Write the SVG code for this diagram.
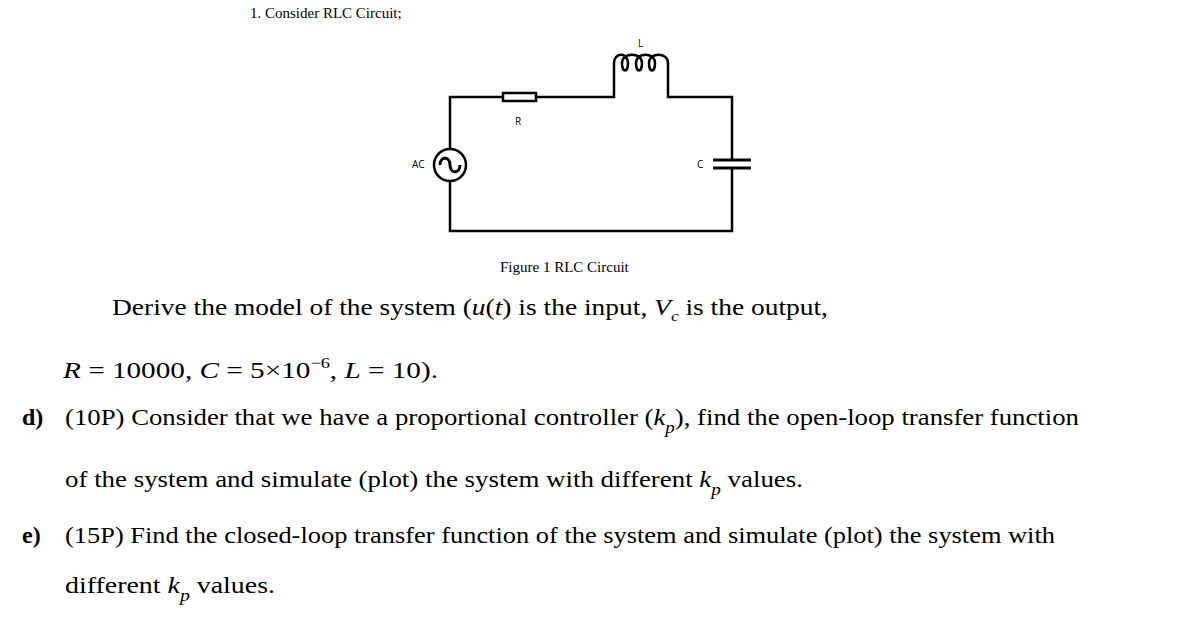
<svg xmlns="http://www.w3.org/2000/svg" width="1185" height="629" viewBox="0 0 1185 629">
<style>
.w{fill:none;stroke:#000;stroke-width:2.5}
.s{font-family:'Open Sans','DejaVu Sans',sans-serif;font-size:10px}
.i{font-style:italic}
</style>
<rect width="1185" height="629" fill="#fff"/>
<text x="250" y="18" font-family="Liberation Serif,serif" font-size="15">1. Consider RLC Circuit;</text>
<g id="connectors">
<path class="w" d="M450,149 V97 H502 M537,97 H614 V63 M668,63 V97 H732 V160 M732,168 V231 H450 V181"/>
</g>
<g id="R"><rect x="503" y="93" width="33" height="8" class="w" stroke-width="3"/><text x="515" y="125" class="s">R</text></g>
<g id="L"><path class="w" d="M614,63 C614,52 628,52 628,63 C628,73 622,73 622,63 C622,52 642,52 642,63 C642,73 636,73 636,63 C636,52 655,52 655,63 C655,73 649,73 649,63 C649,52 668,52 668,63"/><text x="638" y="47" class="s">L</text></g>
<g id="C"><path d="M713,160 H751 M713,168 H751" stroke="#000" stroke-width="3"/><text x="697" y="168" class="s">C</text></g>
<g id="AC"><circle cx="450" cy="165" r="16" class="w"/><path d="M440,165 C440,156 450,156 450,165 C450,174 460,174 460,165" fill="none" stroke="#000" stroke-width="3"/><text x="412" y="168" class="s">AC</text></g>
<text x="500" y="272" font-family="Liberation Serif,serif" font-size="15">Figure 1 RLC Circuit</text>
<g font-family="Liberation Serif,serif" font-size="24">
<text x="112" y="315" textLength="716" lengthAdjust="spacingAndGlyphs">Derive the model of the system (<tspan class="i">u</tspan>(<tspan class="i">t</tspan>) is the input, <tspan class="i">V</tspan><tspan class="i" font-size="15" dy="6">c</tspan><tspan dy="-6">  is the output,</tspan></text>
<text x="63" y="378" textLength="375" lengthAdjust="spacingAndGlyphs"><tspan class="i">R</tspan> = 10000, <tspan class="i">C</tspan> = 5×10<tspan font-size="15" dy="-10">−6</tspan><tspan dy="10">, </tspan><tspan class="i">L</tspan> = 10).</text>
<text x="22" y="425" font-weight="bold">d)</text>
<text x="65" y="425" textLength="1014" lengthAdjust="spacingAndGlyphs">(10P) Consider that we have a proportional controller (<tspan class="i">k</tspan><tspan class="i" font-size="17" dy="8">p</tspan><tspan dy="-8">), find the open-loop transfer function</tspan></text>
<text x="65" y="487" textLength="738" lengthAdjust="spacingAndGlyphs">of the system and simulate (plot) the system with different <tspan class="i">k</tspan><tspan class="i" font-size="17" dy="8">p</tspan><tspan dy="-8">  values.</tspan></text>
<text x="22" y="543" font-weight="bold">e)</text>
<text x="65" y="543" textLength="990" lengthAdjust="spacingAndGlyphs">(15P) Find the closed-loop transfer function of the system and simulate (plot) the system with</text>
<text x="65" y="593" textLength="210" lengthAdjust="spacingAndGlyphs">different <tspan class="i">k</tspan><tspan class="i" font-size="17" dy="8">p</tspan><tspan dy="-8">  values.</tspan></text>
</g>
</svg>
